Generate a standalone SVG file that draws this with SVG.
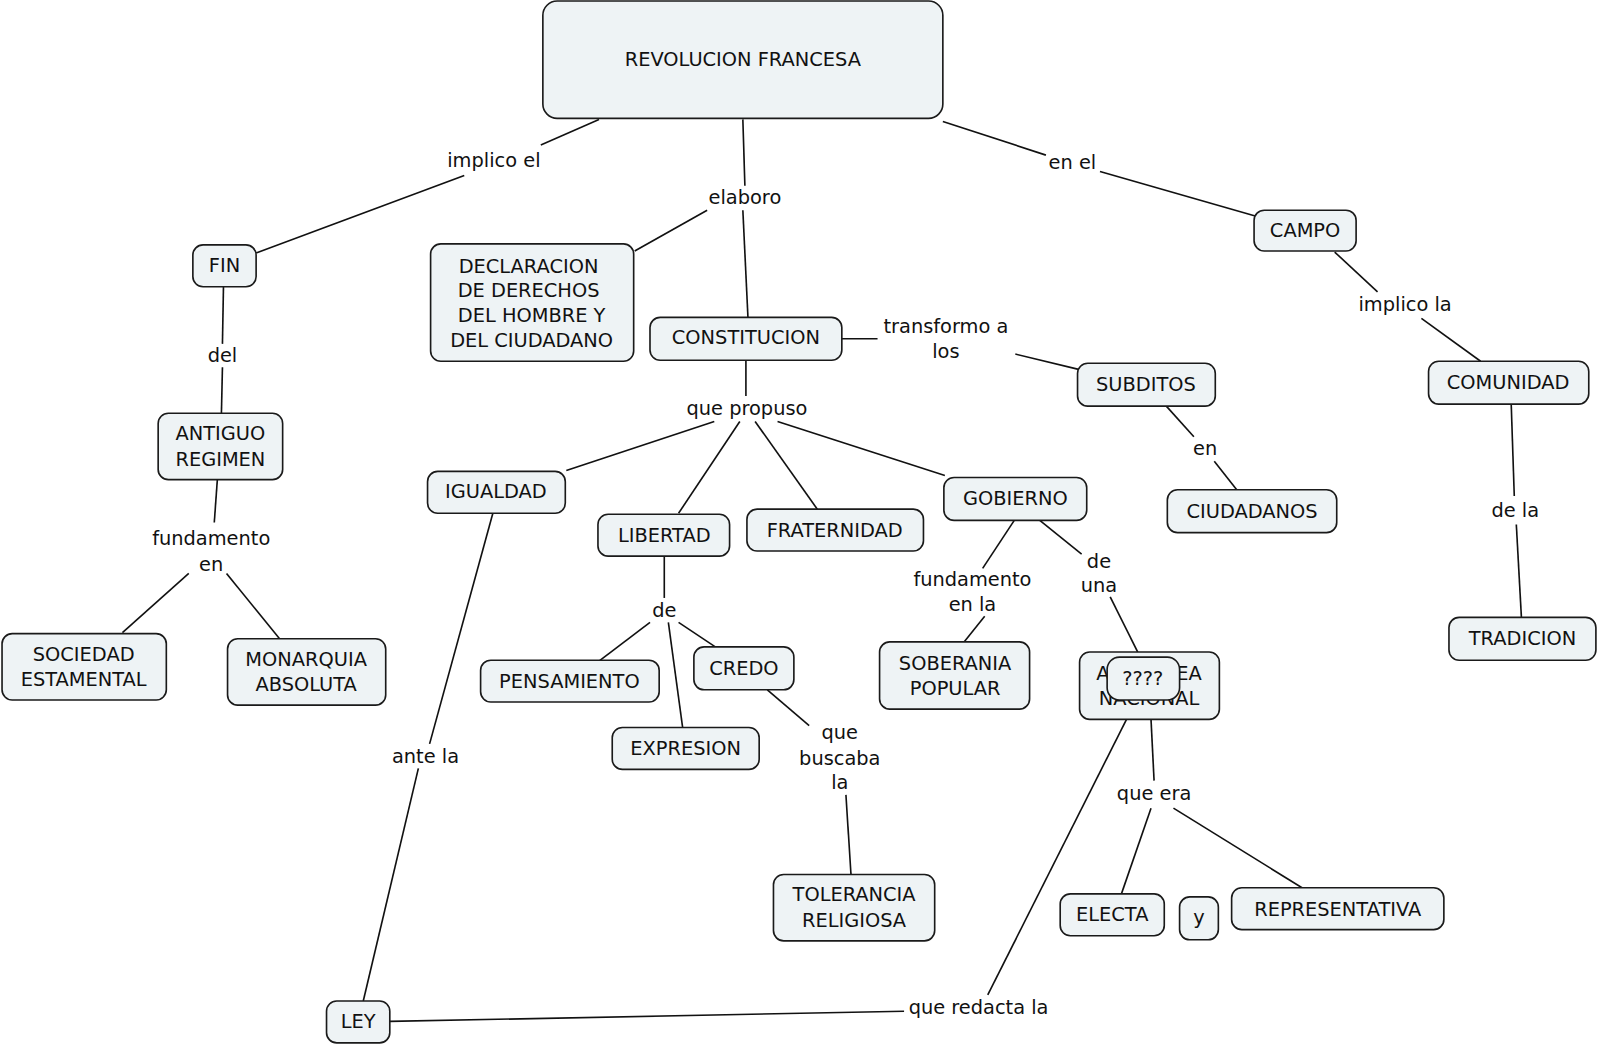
<svg xmlns="http://www.w3.org/2000/svg" width="1600" height="1047" viewBox="0 0 1600 1047">
<style>
.n rect{fill:#eef3f5;stroke:#1a1a1a;stroke-width:1.6}
text{font-family:"DejaVu Sans",Verdana,sans-serif;font-size:19px;fill:#111;text-anchor:middle;dominant-baseline:central}
.c line{stroke:#111;stroke-width:1.6}
</style>
<rect width="1600" height="1047" fill="#fff"/>
<g transform="scale(1.0204)">
<g class="c">
<line x1="587" y1="117" x2="530" y2="142"/><line x1="455" y1="172" x2="251" y2="248"/>
<line x1="728" y1="117" x2="730" y2="182"/><line x1="728" y1="206" x2="733" y2="311"/><line x1="693" y1="206" x2="622" y2="246"/>
<line x1="924" y1="119" x2="1025" y2="152"/><line x1="1078" y1="168" x2="1231" y2="212"/>
<line x1="219" y1="281" x2="218" y2="337"/><line x1="218" y1="360" x2="217" y2="405"/>
<line x1="1308" y1="247" x2="1350" y2="286"/><line x1="1393" y1="312" x2="1451" y2="354"/>
<line x1="825" y1="332" x2="860" y2="332"/><line x1="995" y1="347" x2="1057" y2="362"/>
<line x1="1481" y1="396" x2="1484" y2="486"/><line x1="1486" y1="514" x2="1491" y2="605"/>
<line x1="1143" y1="398" x2="1170" y2="428"/><line x1="1190" y1="452" x2="1212" y2="480"/>
<line x1="213" y1="470" x2="210" y2="512"/><line x1="185" y1="562" x2="120" y2="620"/><line x1="222" y1="562" x2="274" y2="626"/>
<line x1="731" y1="353" x2="731" y2="388"/>
<line x1="700" y1="413" x2="555" y2="461"/><line x1="725" y1="413" x2="665" y2="503"/><line x1="740" y1="413" x2="801" y2="499"/><line x1="762" y1="413" x2="926" y2="466"/>
<line x1="651" y1="545" x2="651" y2="586"/><line x1="637" y1="610" x2="587" y2="648"/><line x1="655" y1="610" x2="669" y2="713"/><line x1="665" y1="610" x2="701" y2="634"/>
<line x1="752" y1="676" x2="793" y2="711"/><line x1="829" y1="779" x2="834" y2="857"/>
<line x1="994" y1="510" x2="963" y2="557"/><line x1="1019" y1="510" x2="1060" y2="543"/><line x1="965" y1="604" x2="945" y2="629"/><line x1="1088" y1="585" x2="1115" y2="639"/>
<line x1="483" y1="503" x2="421" y2="729"/><line x1="410" y1="753" x2="356" y2="981"/>
<line x1="1128" y1="705" x2="1131" y2="765"/><line x1="1128" y1="792" x2="1099" y2="876"/><line x1="1150" y1="792" x2="1276" y2="870"/>
<line x1="1104" y1="705" x2="968" y2="975"/><line x1="886" y1="991" x2="382" y2="1001"/>
</g>
<g id="labels">
<text x="484" y="157">implico el</text><text x="730" y="194">elaboro</text><text x="1051" y="159">en el</text>
<text x="218" y="348">del</text><text x="927" y="320">transformo a</text><text x="927" y="344">los</text>
<text x="1377" y="298">implico la</text><text x="732" y="400">que propuso</text>
<text x="207" y="528">fundamento</text><text x="207" y="553">en</text><text x="1181" y="440">en</text><text x="651" y="598">de</text>
<text x="1077" y="550">de</text><text x="1077" y="574">una</text><text x="953" y="568">fundamento</text><text x="953" y="592">en la</text>
<text x="1485" y="500">de la</text><text x="823" y="718">que</text><text x="823" y="743">buscaba</text><text x="823" y="767">la</text>
<text x="417" y="741">ante la</text><text x="1131" y="778">que era</text><text x="959" y="987">que redacta la</text>
</g>
<g id="revolucion" class="n"><rect x="532" y="1" width="392" height="115" rx="14"/><text x="728" y="58">REVOLUCION FRANCESA</text></g>
<g id="fin" class="n"><rect x="189" y="240" width="62" height="41" rx="10"/><text x="220" y="260">FIN</text></g>
<g id="declaracion" class="n"><rect x="422" y="239" width="199" height="115" rx="10"/><text x="518" y="261">DECLARACION</text><text x="518" y="285">DE DERECHOS</text><text x="521" y="309">DEL HOMBRE Y</text><text x="521" y="334">DEL CIUDADANO</text></g>
<g id="constitucion" class="n"><rect x="637" y="311" width="188" height="42" rx="10"/><text x="731" y="331">CONSTITUCION</text></g>
<g id="campo" class="n"><rect x="1229" y="206" width="100" height="40" rx="10"/><text x="1279" y="226">CAMPO</text></g>
<g id="subditos" class="n"><rect x="1056" y="356" width="135" height="42" rx="10"/><text x="1123" y="377">SUBDITOS</text></g>
<g id="comunidad" class="n"><rect x="1400" y="354" width="157" height="42" rx="10"/><text x="1478" y="375">COMUNIDAD</text></g>
<g id="antiguo" class="n"><rect x="155" y="405" width="122" height="65" rx="10"/><text x="216" y="425">ANTIGUO</text><text x="216" y="450">REGIMEN</text></g>
<g id="igualdad" class="n"><rect x="419" y="462" width="135" height="41" rx="10"/><text x="486" y="482">IGUALDAD</text></g>
<g id="libertad" class="n"><rect x="586" y="504" width="129" height="41" rx="10"/><text x="651" y="525">LIBERTAD</text></g>
<g id="fraternidad" class="n"><rect x="732" y="499" width="173" height="41" rx="10"/><text x="818" y="520">FRATERNIDAD</text></g>
<g id="gobierno" class="n"><rect x="925" y="468" width="140" height="42" rx="10"/><text x="995" y="489">GOBIERNO</text></g>
<g id="ciudadanos" class="n"><rect x="1144" y="480" width="166" height="42" rx="10"/><text x="1227" y="501">CIUDADANOS</text></g>
<g id="sociedad" class="n"><rect x="2" y="621" width="161" height="65" rx="10"/><text x="82" y="641">SOCIEDAD</text><text x="82" y="666">ESTAMENTAL</text></g>
<g id="monarquia" class="n"><rect x="223" y="626" width="155" height="65" rx="10"/><text x="300" y="646">MONARQUIA</text><text x="300" y="671">ABSOLUTA</text></g>
<g id="pensamiento" class="n"><rect x="471" y="647" width="175" height="41" rx="10"/><text x="558" y="668">PENSAMIENTO</text></g>
<g id="credo" class="n"><rect x="680" y="634" width="98" height="42" rx="10"/><text x="729" y="655">CREDO</text></g>
<g id="expresion" class="n"><rect x="600" y="713" width="144" height="41" rx="10"/><text x="672" y="734">EXPRESION</text></g>
<g id="soberania" class="n"><rect x="862" y="629" width="147" height="66" rx="10"/><text x="936" y="650">SOBERANIA</text><text x="936" y="675">POPULAR</text></g>
<g id="asamblea" class="n"><rect x="1058" y="639" width="137" height="66" rx="10"/><text x="1126" y="660">ASAMBLEA</text><text x="1126" y="685">NACIONAL</text></g>
<g id="q" class="n"><rect x="1085" y="644" width="71" height="42" rx="12"/><text x="1120" y="665">????</text></g>
<g id="tradicion" class="n"><rect x="1420" y="605" width="144" height="42" rx="10"/><text x="1492" y="626">TRADICION</text></g>
<g id="tolerancia" class="n"><rect x="758" y="857" width="158" height="65" rx="10"/><text x="837" y="877">TOLERANCIA</text><text x="837" y="902">RELIGIOSA</text></g>
<g id="electa" class="n"><rect x="1039" y="876" width="102" height="41" rx="10"/><text x="1090" y="896">ELECTA</text></g>
<g id="y" class="n"><rect x="1156" y="879" width="38" height="42" rx="10"/><text x="1175" y="899">y</text></g>
<g id="representativa" class="n"><rect x="1207" y="870" width="208" height="41" rx="10"/><text x="1311" y="891">REPRESENTATIVA</text></g>
<g id="ley" class="n"><rect x="320" y="981" width="62" height="41" rx="10"/><text x="351" y="1001">LEY</text></g>
</g>
</svg>
